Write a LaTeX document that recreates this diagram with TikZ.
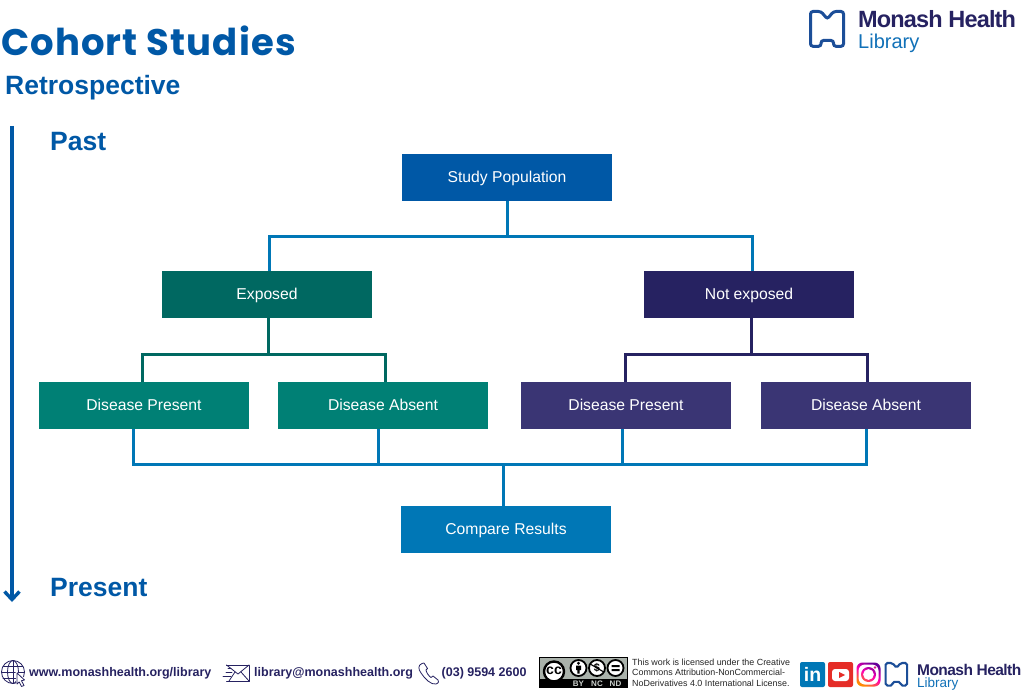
\documentclass[tikz,border=0pt]{standalone}
\usepackage{fontspec}
\usetikzlibrary{arrows.meta,calc}
\setmainfont{Liberation Sans}
\newfontfamily\popp{Poppins}[BoldFont={Poppins Bold},LetterSpace=3]
\newfontfamily\tightf{Liberation Sans}[LetterSpace=-3.6]
\definecolor{blueA}{HTML}{0058A6}
\definecolor{tealD}{HTML}{006861}
\definecolor{navy}{HTML}{262261}
\definecolor{tealL}{HTML}{008075}
\definecolor{purp}{HTML}{3A3574}
\definecolor{cobalt}{HTML}{0077B6}
\definecolor{libblue}{HTML}{1171B8}
\definecolor{logoblue}{HTML}{1C4E98}
\definecolor{ccgray}{HTML}{AAB2AB}
\definecolor{ytred}{HTML}{E52D27}
\newcommand\logopath{(2.5,1.5)--(13,1.5)--(19.3,9)--(25.5,1.5)--(35.5,1.5)--(35.5,36.3)--(25.5,36.3)--(25.5,30.5)--(13,30.5)--(13,36.3)--(2.5,36.3)--cycle}
\tikzset{
  x=1pt,y=-1pt,
  bx/.style={minimum width=210pt,minimum height=47pt,inner sep=0pt,text=white,font=\fontsize{15.7}{18}\selectfont,text height=12pt,text depth=2pt},
  lnk/.style={line width=3pt,draw=#1},
  head/.style={anchor=base west,inner sep=0pt,text=blueA,font=\bfseries\fontsize{26.5}{30}\selectfont},
  foot/.style={anchor=base west,inner sep=0pt,text=navy,font=\bfseries\fontsize{12.5}{15}\selectfont},
  ico/.style={draw=navy,line width=.8pt,line join=round,line cap=round},
  lictext/.style={anchor=base west,inner sep=0pt,text=black!85,font=\fontsize{8.9}{10.6}\selectfont},
  cclab/.style={inner sep=0pt,text=ccgray!60!white,font=\bfseries\fontsize{8}{8}\selectfont},
  biglogo/.pic={\draw[draw=logoblue,line width=3pt,rounded corners=2.5pt] \logopath;},
  smalllogo/.pic={\draw[draw=logoblue,line width=2.1pt,rounded corners=1.8pt] \logopath;}
}
\begin{document}
\begin{tikzpicture}
\useasboundingbox (0,0) rectangle (1024,700);
\fill[white] (0,0) rectangle (1024,700);
% headings
\node[anchor=base west,inner sep=0pt,text=blueA,font=\popp\bfseries\fontsize{37}{40}\selectfont] (title) at (1,56) {Cohort Studies};
\node[head] (retro) at (5,95) {Retrospective};
\node[head] (past) at (50,151) {Past};
\node[head] (pres) at (50,596) {Present};
% time arrow
\coordinate (ta) at (12,126);
\coordinate (tb) at (12,602);
\draw[draw=blueA,line width=3.4pt,-{Straight Barb[length=8pt,width=15pt,line width=3.4pt]}] (ta)--(tb);
% boxes
\node[bx,fill=blueA] (sp) at (507,177.5) {Study Population};
\node[bx,fill=tealD] (ex) at (267,294.5) {Exposed};
\node[bx,fill=navy] (ne) at (749,294.5) {Not exposed};
\node[bx,fill=tealL] (dp1) at (144,405.5) {Disease Present};
\node[bx,fill=tealL] (da1) at (383,405.5) {Disease Absent};
\node[bx,fill=purp] (dp2) at (626,405.5) {Disease Present};
\node[bx,fill=purp] (da2) at (866,405.5) {Disease Absent};
\node[bx,fill=cobalt] (cr) at (506,529.5) {Compare Results};
% connectors
\coordinate (j1) at (507,237);
\coordinate (j2) at (268,354);
\coordinate (j3) at (751,354);
\coordinate (j4) at (503,464);
\draw[lnk=cobalt] (sp.south)--(j1);
\draw[lnk=cobalt] ([xshift=2pt]ex.north) |- (j1) -| ([xshift=3pt]ne.north);
\draw[lnk=tealD] ([xshift=1pt]ex.south)--(j2);
\draw[lnk=tealD] ([xshift=-2pt]dp1.north) |- (j2) -| ([xshift=2pt]da1.north);
\draw[lnk=navy] ([xshift=2pt]ne.south)--(j3);
\draw[lnk=navy] ([xshift=-1pt]dp2.north) |- (j3) -| ([xshift=1pt]da2.north);
\draw[lnk=cobalt] ([xshift=-11pt]dp1.south) |- (j4) -| (da2.south);
\draw[lnk=cobalt] ([xshift=-5pt]da1.south) -- ([xshift=-5pt]da1.south |- j4);
\draw[lnk=cobalt] ([xshift=-4pt]dp2.south) -- ([xshift=-4pt]dp2.south |- j4);
\draw[lnk=cobalt] (j4) -- ([xshift=-3pt]cr.north);
% top logo
\pic at (808,10) {biglogo};
\node[anchor=base west,inner sep=0pt,text=navy,font=\tightf\bfseries\fontsize{23.5}{26}\selectfont] (lg1) at (858,28) {Monash Health};
\node[anchor=base west,inner sep=0pt,text=libblue,font=\fontsize{20}{22}\selectfont] (lg2) at (858,48.5) {Library};
% footer texts
\node[foot] (web) at (29,676) {www.monashhealth.org/library};
\node[foot] (mail) at (254,676) {library@monashhealth.org};
\node[foot] (tel) at (441.5,676) {(03) 9594 2600};
% globe
\draw[ico] (13,672) circle (11.5);
\draw[ico] (13,672) ellipse (5.5 and 11.5);
\draw[ico] (13,660.5)--(13,683.5) (1.5,672)--(24.5,672) (3,666)--(23,666) (3,678)--(23,678);
\fill[white] (15.5,671)--(26,679)--(23,680.5)--(25.5,685.5)--(21.5,687.5)--(19,683)--(16.5,685.5)--cycle;
\draw[ico] (17,673)--(24.5,680)--(21.5,680.7)--(24,685.5)--(21.5,686.5)--(19.2,682)--(17,684)--cycle;
% envelope
\draw[ico] (226.5,665) -- (249,665) -- (249,681) -- (226.5,681);
\draw[ico] (226.5,665)--(238,674)--(249,665) (229,681)--(235,672) (249,681)--(241,672);
\draw[ico] (228,668)--(231,668) (226,672)--(232,672) (223,676)--(231,676);
% phone
\draw[ico] (422,663.5) .. controls (418,665) and (418,669) .. (421,673) .. controls (425,679) and (431,685) .. (436,684) .. controls (439,683) and (439,681) .. (438,680) -- (433,676) -- (431,677.5) .. controls (429,676.5) and (426,672) .. (426,670) -- (427.5,668.5) -- (424,663) -- cycle;
% CC badge
\fill[black] (539,657) rectangle (628,688);
\fill[ccgray] (540,658) rectangle (627,679);
\draw[black,line width=2.4pt,fill=white] (554,671.5) circle (10);
\node[inner sep=0pt,font=\bfseries\fontsize{14}{14}\selectfont] (ccl) at (554,670.5) {cc};
\foreach \cx in {578.5,597,615.5}{\draw[black,line width=1.8pt,fill=white] (\cx,668) circle (8);}
\fill (578.5,663.3) circle (1.6);
\fill (576,665.5)--(581,665.5)--(581,670)--(579.7,670)--(579.7,673.5)--(577.3,673.5)--(577.3,670)--(576,670)--cycle;
\node[inner sep=0pt,font=\bfseries\fontsize{11}{11}\selectfont] (ncl) at (597,668) {\$};
\draw[black,line width=1.1pt] (591,664.5)--(603,671.5);
\fill (611.5,665) rectangle (619.5,667) (611.5,669) rectangle (619.5,671);
\node[cclab] (by) at (578.5,683.3) {BY};
\node[cclab] (nc) at (597,683.3) {NC};
\node[cclab] (nd) at (615.5,683.3) {ND};
% licence
\node[lictext] (lic) at (632,665) {This work is licensed under the Creative};
\node[lictext] (lic2) at (632,675) {Commons Attribution-NonCommercial-};
\node[lictext] (lic3) at (632,686) {NoDerivatives 4.0 International License.};
% social
\fill[fill=cobalt,rounded corners=2pt] (800,662) rectangle (825,687);
\node[inner sep=0pt,text=white,font=\bfseries\fontsize{19.5}{20}\selectfont] (li) at (812.5,674) {in};
\fill[fill=ytred,rounded corners=2pt] (828,662) rectangle (853,687);
\fill[white,rounded corners=3pt] (832,669) rectangle (849,681);
\fill[ytred] (839,672)--(845,675)--(839,678)--cycle;
\shade[even odd rule,bottom color=orange!90!yellow,top color=violet!80!blue,middle color=magenta!70!red,shading angle=-30,rounded corners=6pt]
 (856.5,662.5) rectangle (880.5,686.5) (858.5,664.5) rectangle (878.5,684.5)
 (868.5,667) arc[start angle=-90,delta angle=360,radius=7.5] (868.5,669) arc[start angle=-90,delta angle=-360,radius=5.5];
\fill[magenta!80!violet] (875,667.5) circle (1.3);
\pic[scale=.65] at (884,662) {smalllogo};
\node[anchor=base west,inner sep=0pt,text=navy,font=\tightf\bfseries\fontsize{15.5}{18}\selectfont] (lg3) at (917,675) {Monash Health};
\node[anchor=base west,inner sep=0pt,text=libblue,font=\fontsize{13.5}{15}\selectfont] (lg4) at (917,687) {Library};
\end{tikzpicture}
\end{document}
